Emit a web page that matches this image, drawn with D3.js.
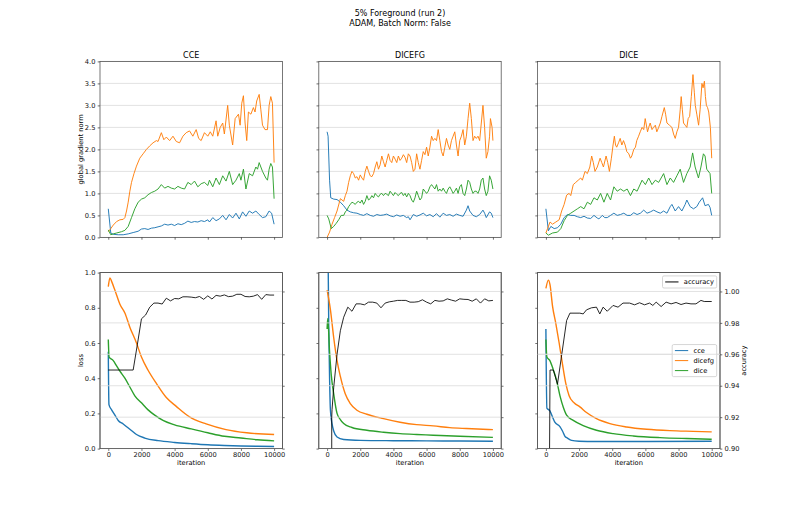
<!DOCTYPE html>
<html>
<head>
<meta charset="utf-8">
<script src="https://cdn.jsdelivr.net/npm/d3@7"></script>
<style>
  body { margin: 0; background: #fff; }
  svg { font-family: "DejaVu Sans", sans-serif; }
</style>
</head>
<body>
<svg id="fig" width="800" height="512"></svg>
<script>
// --- labels / ticks ---
const panelTitles = ["CCE", "DICEFG", "DICE"];
const seriesNames = ["cce", "dicefg", "dice"];
const iterTicks = [0, 2000, 4000, 6000, 8000, 10000];
const gradTicks = [0, 0.5, 1, 1.5, 2, 2.5, 3, 3.5, 4];
const lossTicks = [0, 0.2, 0.4, 0.6, 0.8, 1.0];
const accTicks = [0.90, 0.92, 0.94, 0.96, 0.98, 1.00];

// --- global gradient norm, [iteration, value] ---
const cceGradCce = [[0,0.65],[150,0.1],[300,0.07],[600,0.06],[900,0.06],[1200,0.08],[1500,0.11],[1800,0.14],[2000,0.19],[2200,0.2],[2400,0.18],[2600,0.21],[2800,0.22],[3000,0.24],[3200,0.26],[3400,0.3],[3600,0.28],[3800,0.3],[4000,0.27],[4200,0.31],[4400,0.29],[4600,0.32],[4800,0.37],[5000,0.34],[5200,0.36],[5400,0.35],[5600,0.38],[5800,0.36],[6000,0.4],[6100,0.35],[6300,0.45],[6500,0.38],[6700,0.42],[6900,0.5],[7100,0.4],[7300,0.52],[7500,0.44],[7700,0.55],[7900,0.42],[8100,0.58],[8300,0.48],[8500,0.6],[8700,0.55],[8900,0.6],[9100,0.52],[9300,0.45],[9500,0.47],[9700,0.6],[9850,0.55],[10000,0.3]];
const cceGradDicefg = [[0,0.13],[150,0.2],[300,0.28],[500,0.36],[700,0.4],[900,0.41],[1000,0.45],[1100,0.6],[1200,0.8],[1300,1.05],[1400,1.25],[1550,1.45],[1700,1.62],[1900,1.8],[2100,1.9],[2300,2.0],[2500,2.08],[2700,2.15],[2900,2.2],[3000,2.18],[3200,2.38],[3350,2.22],[3500,2.28],[3700,2.2],[3900,2.3],[4100,2.18],[4300,2.15],[4500,2.3],[4700,2.38],[4900,2.42],[5100,2.3],[5300,2.45],[5450,2.25],[5600,2.2],[5800,2.38],[6000,2.3],[6150,2.4],[6300,2.3],[6500,2.65],[6600,2.3],[6750,2.5],[6900,2.6],[7000,2.35],[7200,3.0],[7300,2.55],[7500,2.1],[7650,2.7],[7850,2.8],[7950,2.55],[8050,3.05],[8150,3.22],[8250,2.6],[8350,2.2],[8450,2.85],[8600,2.8],[8750,2.95],[8850,2.85],[8950,3.1],[9100,3.25],[9200,2.9],[9300,2.55],[9450,2.45],[9600,2.45],[9700,3.0],[9800,3.2],[9900,3.05],[10000,1.7]];
const cceGradDice = [[0,0.17],[150,0.06],[300,0.08],[500,0.1],[800,0.13],[1000,0.16],[1200,0.25],[1400,0.45],[1600,0.65],[1800,0.8],[2000,0.87],[2200,0.9],[2400,0.97],[2600,1.02],[2800,1.05],[3000,1.1],[3200,1.2],[3400,1.12],[3600,1.16],[3800,1.12],[4000,1.1],[4200,1.16],[4400,1.12],[4600,1.1],[4800,1.25],[5000,1.2],[5200,1.28],[5400,1.15],[5600,1.22],[5800,1.25],[6000,1.18],[6100,1.3],[6300,1.15],[6500,1.35],[6700,1.2],[6900,1.4],[7100,1.28],[7300,1.5],[7500,1.2],[7700,1.3],[7900,1.45],[8000,1.3],[8150,1.55],[8300,1.1],[8500,1.45],[8700,1.4],[8900,1.6],[9000,1.55],[9100,1.7],[9300,1.5],[9500,1.35],[9600,1.3],[9700,1.55],[9800,1.68],[9900,1.6],[10000,0.88]];

const dicefgGradCce = [[0,2.4],[60,2.3],[150,1.3],[220,0.9],[400,0.87],[600,0.86],[800,0.8],[1000,0.72],[1200,0.62],[1400,0.58],[1600,0.56],[1800,0.55],[2000,0.52],[2200,0.5],[2400,0.54],[2600,0.5],[2800,0.48],[3000,0.52],[3200,0.5],[3400,0.51],[3600,0.53],[3800,0.49],[4000,0.47],[4200,0.51],[4400,0.48],[4600,0.5],[4800,0.45],[4900,0.47],[5000,0.4],[5200,0.52],[5400,0.48],[5600,0.51],[5800,0.55],[6000,0.49],[6200,0.52],[6400,0.47],[6600,0.54],[6800,0.46],[7000,0.55],[7200,0.5],[7400,0.52],[7600,0.48],[7800,0.53],[8000,0.5],[8200,0.48],[8400,0.62],[8500,0.72],[8600,0.6],[8800,0.5],[9000,0.47],[9200,0.52],[9400,0.62],[9500,0.55],[9600,0.45],[9800,0.58],[9900,0.55],[10000,0.45]];
const dicefgGradDicefg = [[0,0.0],[150,0.12],[300,0.3],[450,0.45],[600,0.6],[800,0.88],[900,0.85],[1000,0.82],[1100,0.95],[1200,1.05],[1300,1.25],[1400,1.4],[1500,1.5],[1600,1.45],[1700,1.35],[1800,1.38],[1900,1.3],[2000,1.42],[2100,1.35],[2200,1.3],[2300,1.5],[2400,1.62],[2500,1.5],[2600,1.4],[2700,1.38],[2800,1.45],[2900,1.6],[3000,1.72],[3100,1.55],[3200,1.65],[3300,1.85],[3400,1.72],[3500,1.6],[3600,1.75],[3700,1.9],[3800,1.75],[3900,1.7],[4000,1.85],[4100,1.78],[4200,1.7],[4300,1.85],[4400,1.75],[4500,1.8],[4600,1.88],[4700,1.82],[4800,1.7],[4900,1.9],[5000,1.85],[5100,1.7],[5200,1.5],[5300,1.55],[5400,1.9],[5500,1.7],[5600,1.55],[5700,1.75],[5800,1.95],[5900,1.88],[6000,2.05],[6100,1.85],[6200,2.05],[6300,2.3],[6400,2.2],[6500,2.25],[6600,2.2],[6700,2.45],[6800,2.2],[6900,1.95],[7000,1.85],[7100,2.05],[7200,2.25],[7300,2.1],[7400,2.0],[7500,2.2],[7600,2.3],[7700,2.4],[7800,2.1],[7900,1.85],[8000,2.2],[8100,2.3],[8200,2.45],[8300,2.1],[8400,2.3],[8500,2.7],[8600,3.05],[8700,2.7],[8800,2.2],[8900,2.3],[9000,2.25],[9100,2.3],[9200,2.2],[9300,2.6],[9400,3.0],[9500,2.5],[9600,1.8],[9700,1.95],[9800,2.3],[9850,2.7],[9950,2.5],[10000,2.2]];
const dicefgGradDice = [[0,0.5],[100,0.42],[250,0.2],[400,0.25],[550,0.32],[700,0.4],[850,0.5],[1000,0.5],[1100,0.58],[1200,0.62],[1300,0.7],[1400,0.75],[1500,0.8],[1600,0.78],[1700,0.75],[1800,0.8],[1900,0.82],[2000,0.78],[2100,0.85],[2200,0.75],[2300,0.82],[2400,0.95],[2500,0.85],[2600,0.88],[2700,0.95],[2800,0.9],[2900,1.0],[3000,0.95],[3100,0.92],[3200,0.98],[3300,1.0],[3400,0.95],[3500,1.0],[3600,0.98],[3700,0.95],[3800,1.05],[3900,1.0],[4000,0.95],[4100,1.02],[4200,0.98],[4300,0.95],[4400,1.0],[4500,1.02],[4600,0.95],[4700,1.0],[4800,0.92],[4900,1.0],[5000,0.95],[5100,0.85],[5200,0.8],[5300,0.9],[5400,1.05],[5500,0.95],[5600,0.85],[5700,0.9],[5800,1.1],[5900,1.05],[6000,1.0],[6100,1.05],[6200,1.15],[6300,1.2],[6400,1.15],[6500,1.1],[6600,1.2],[6700,1.05],[6800,1.1],[6900,1.05],[7000,1.12],[7100,1.05],[7200,1.0],[7300,1.1],[7400,1.15],[7500,1.08],[7600,1.0],[7700,1.05],[7800,1.12],[7900,1.0],[8000,1.15],[8100,1.2],[8200,1.0],[8300,0.95],[8400,1.1],[8500,1.3],[8600,1.25],[8700,1.1],[8800,1.0],[8900,1.05],[9000,1.05],[9100,1.0],[9200,1.1],[9300,1.3],[9400,1.35],[9500,1.1],[9600,0.95],[9700,1.05],[9800,1.4],[9900,1.3],[10000,1.1]];

const diceGradCce = [[0,0.65],[150,0.15],[300,0.25],[500,0.2],[700,0.22],[900,0.3],[1100,0.45],[1300,0.52],[1500,0.5],[1700,0.5],[1900,0.47],[2100,0.45],[2300,0.48],[2500,0.44],[2700,0.43],[2900,0.5],[3100,0.44],[3200,0.42],[3400,0.5],[3550,0.45],[3700,0.45],[3900,0.5],[4100,0.55],[4300,0.5],[4500,0.52],[4700,0.55],[4900,0.5],[5100,0.5],[5300,0.56],[5500,0.52],[5700,0.55],[5900,0.62],[6100,0.55],[6300,0.58],[6500,0.62],[6700,0.58],[6900,0.55],[7100,0.6],[7300,0.55],[7500,0.7],[7600,0.75],[7800,0.6],[8000,0.7],[8200,0.6],[8400,0.75],[8500,0.85],[8700,0.7],[8900,0.65],[9100,0.7],[9250,0.8],[9450,0.9],[9600,0.72],[9800,0.75],[9900,0.68],[10000,0.5]];
const diceGradDicefg = [[0,0.1],[100,0.2],[250,0.35],[400,0.3],[600,0.35],[800,0.4],[950,0.6],[1100,0.75],[1250,0.96],[1400,1.0],[1500,0.95],[1650,1.2],[1800,1.25],[1950,1.3],[2100,1.35],[2200,1.3],[2360,1.5],[2500,1.45],[2650,1.6],[2760,1.85],[2860,1.7],[2960,1.5],[3100,1.6],[3270,1.8],[3370,1.7],[3470,1.6],[3630,1.85],[3730,1.7],[3830,1.5],[3950,1.8],[4050,2.1],[4130,2.3],[4200,2.1],[4270,2.05],[4380,2.15],[4480,2.25],[4580,2.1],[4680,2.2],[4780,2.1],[4880,1.95],[5000,1.9],[5100,1.8],[5180,1.85],[5300,2.0],[5400,2.05],[5480,2.2],[5590,2.3],[5690,2.4],[5800,2.5],[5900,2.45],[5990,2.7],[6130,2.4],[6200,2.5],[6290,2.6],[6400,2.45],[6490,2.5],[6600,2.55],[6690,2.4],[6800,2.5],[6900,2.6],[7000,2.75],[7140,2.95],[7220,2.8],[7300,2.6],[7450,2.55],[7600,2.5],[7700,2.35],[7800,2.25],[7900,2.4],[8000,2.5],[8100,2.9],[8160,3.2],[8230,2.9],[8300,2.6],[8400,2.55],[8500,2.5],[8580,2.7],[8670,2.75],[8770,3.2],[8870,3.7],[8950,3.3],[9010,3.0],[9100,2.8],[9210,2.55],[9300,2.9],[9410,3.5],[9480,3.4],[9560,3.55],[9620,3.2],[9680,3.0],[9750,2.95],[9820,2.85],[9920,2.5],[10000,1.8]];
const diceGradDice = [[0,0.1],[150,0.05],[400,0.1],[700,0.12],[900,0.2],[1100,0.38],[1300,0.5],[1500,0.55],[1700,0.6],[1900,0.65],[2100,0.7],[2300,0.65],[2500,0.8],[2700,0.75],[2900,0.9],[3100,0.85],[3300,1.0],[3500,0.8],[3700,1.0],[3900,0.85],[4100,1.15],[4300,1.05],[4500,1.1],[4700,1.05],[4900,1.1],[5100,0.95],[5300,1.1],[5500,1.05],[5800,1.3],[6000,1.2],[6200,1.35],[6400,1.2],[6600,1.3],[6800,1.25],[7100,1.45],[7300,1.2],[7500,1.35],[7700,1.25],[7900,1.4],[8100,1.55],[8300,1.25],[8500,1.45],[8700,1.6],[8850,1.92],[9000,1.6],[9200,1.35],[9350,1.6],[9500,1.9],[9600,1.85],[9700,1.55],[9900,1.45],[10000,1.0]];

// --- loss ---
const cceLossCce = [[0,0.55],[40,0.25],[200,0.22],[400,0.19],[600,0.16],[900,0.14],[1300,0.11],[1700,0.08],[2200,0.06],[3000,0.045],[4000,0.035],[5000,0.028],[6000,0.022],[7000,0.018],[8000,0.015],[9000,0.013],[10000,0.012]];
const cceLossDicefg = [[0,0.92],[100,0.97],[200,0.95],[400,0.9],[700,0.82],[1000,0.77],[1300,0.69],[1700,0.6],[2000,0.52],[2400,0.445],[2900,0.37],[3500,0.29],[4100,0.24],[4900,0.18],[5900,0.14],[7100,0.108],[8350,0.09],[10000,0.08]];
const cceLossDice = [[0,0.62],[50,0.52],[300,0.5],[500,0.47],[700,0.44],[1000,0.4],[1300,0.35],[1600,0.3],[2000,0.26],[2400,0.22],[2800,0.19],[3300,0.16],[4000,0.135],[5000,0.112],[6000,0.09],[7000,0.07],[8000,0.06],[9000,0.05],[10000,0.044]];

const dicefgLossCce = [[0,1.5],[60,1.1],[100,0.7],[150,0.4],[200,0.22],[300,0.14],[400,0.1],[600,0.066],[1000,0.052],[2000,0.047],[4000,0.045],[6000,0.044],[8000,0.043],[10000,0.042]];
const dicefgLossDicefg = [[0,0.9],[200,0.79],[400,0.63],[600,0.5],[800,0.41],[1100,0.31],[1400,0.256],[1800,0.218],[2400,0.195],[3400,0.17],[4400,0.15],[5400,0.136],[6400,0.129],[7400,0.119],[8400,0.114],[10000,0.108]];
const dicefgLossDice = [[0,0.68],[40,0.74],[150,0.55],[250,0.42],[400,0.31],[600,0.2],[800,0.165],[1000,0.142],[1500,0.12],[2400,0.104],[3400,0.093],[4400,0.085],[5400,0.08],[6400,0.076],[8000,0.07],[10000,0.064]];

const diceLossCce = [[0,0.68],[60,0.23],[240,0.215],[400,0.18],[540,0.15],[845,0.125],[1000,0.1],[1150,0.07],[1300,0.06],[1550,0.047],[2000,0.042],[3000,0.04],[6000,0.04],[10000,0.042]];
const diceLossDicefg = [[0,0.91],[150,0.957],[250,0.93],[400,0.81],[600,0.71],[800,0.6],[1000,0.48],[1200,0.37],[1400,0.3],[1700,0.26],[2050,0.237],[2450,0.205],[3050,0.17],[3860,0.142],[4870,0.123],[6080,0.11],[7480,0.102],[8890,0.098],[10000,0.095]];
const diceLossDice = [[0,0.62],[60,0.52],[240,0.5],[440,0.45],[640,0.39],[850,0.3],[1050,0.235],[1250,0.19],[1650,0.16],[2250,0.13],[3050,0.104],[4060,0.085],[5270,0.072],[6880,0.0625],[8490,0.057],[10000,0.053]];

// --- accuracy (right axis) ---
const cceAcc = [[0,0.95],[1500,0.95],[1750,0.966],[2000,0.9826],[2250,0.985],[2500,0.99],[2750,0.9926],[3000,0.9926],[3250,0.992],[3500,0.9957],[3750,0.994],[4000,0.9955],[4250,0.9953],[4500,0.9966],[4750,0.9966],[5000,0.9964],[5250,0.996],[5500,0.9968],[5750,0.995],[6000,0.9972],[6250,0.9952],[6500,0.9975],[6750,0.997],[7000,0.9978],[7250,0.9967],[7500,0.997],[7750,0.9982],[8000,0.9982],[8250,0.9968],[8500,0.9966],[8750,0.997],[9000,0.998],[9250,0.995],[9500,0.998],[9750,0.9977],[10000,0.9977]];
const dicefgAcc = [[0,0.4],[260,0.4],[280,0.92],[300,0.925],[400,0.939],[600,0.96],[800,0.975],[1000,0.9836],[1250,0.99],[1500,0.9874],[1750,0.9921],[2000,0.9921],[2250,0.9915],[2500,0.9932],[2750,0.9932],[3000,0.9926],[3250,0.9896],[3500,0.9926],[3750,0.9934],[4000,0.9938],[4250,0.9943],[4500,0.9943],[4750,0.9943],[5000,0.9932],[5250,0.9932],[5500,0.9935],[5750,0.9947],[6000,0.9932],[6250,0.9921],[6500,0.9943],[6750,0.9938],[7000,0.994],[7250,0.9953],[7500,0.9945],[7750,0.9938],[8000,0.9953],[8250,0.995],[8500,0.9949],[8750,0.9938],[9000,0.9953],[9250,0.9926],[9500,0.9953],[9750,0.994],[10000,0.9943]];
const diceAcc = [[0,0.5],[250,0.95],[450,0.95],[700,0.941],[1250,0.9815],[1450,0.9862],[2050,0.9862],[2250,0.9857],[2450,0.9883],[2750,0.9896],[3050,0.99],[3250,0.9857],[3450,0.99],[3700,0.9874],[4050,0.9911],[4350,0.99],[4650,0.9926],[5050,0.9926],[5350,0.9915],[5650,0.9928],[5950,0.9915],[6250,0.9926],[6450,0.9911],[6650,0.9932],[6950,0.9904],[7250,0.9932],[7550,0.9921],[7850,0.993],[8150,0.9917],[8450,0.9926],[8750,0.9921],[9050,0.9921],[9350,0.9943],[9550,0.9936],[10000,0.9936]];

const gradData = [
  [cceGradCce, cceGradDicefg, cceGradDice],
  [dicefgGradCce, dicefgGradDicefg, dicefgGradDice],
  [diceGradCce, diceGradDicefg, diceGradDice]
];
const lossData = [
  [cceLossCce, cceLossDicefg, cceLossDice],
  [dicefgLossCce, dicefgLossDicefg, dicefgLossDice],
  [diceLossCce, diceLossDicefg, diceLossDice]
];
const accData = [cceAcc, dicefgAcc, diceAcc];

// --- layout ---
const svg = d3.select("#fig");
const colors = ["#1f77b4", "#ff7f0e", "#2ca02c"];
const axLeft = [100, 318.8, 537.6], axW = 182.4;
const axTop = [61.4, 272.6], axH = 176;
const fsTick = 6.7, fsTitle = 8;
const tickLen = 2.3, tickPad = 2.3;
const gridColor = "#dadada", spineColor = "#555";
const accScale = d3.scaleLinear().domain([0.9, 1.012]);

function styleAxis(g) {
  g.select(".domain").remove();
  g.selectAll(".tick line").attr("stroke", "#333").attr("stroke-width", 0.7);
  g.selectAll(".tick text").attr("fill", "#111").style("font-size", fsTick + "px")
    .style("font-family", "DejaVu Sans");
}

function panel(col, row) {
  const x0 = axLeft[col], y0 = axTop[row];
  const xs = d3.scaleLinear().domain([-500, 10500]).range([x0, x0 + axW]);
  const ys = row === 0
    ? d3.scaleLinear().domain([0, 4]).range([y0 + axH, y0])
    : d3.scaleLinear().domain([0, 1]).range([y0 + axH, y0]);
  const ya = accScale.copy().range([y0 + axH, y0]);

  const g = svg.append("g");
  const clipId = `clip-${row}-${col}`;
  g.append("clipPath").attr("id", clipId).append("rect")
    .attr("x", x0).attr("y", y0).attr("width", axW).attr("height", axH);

  const line = (yScale, curve) => d3.line().x(d => xs(d[0])).y(d => yScale(d[1]))
    .curve(curve || d3.curveLinear);

  if (row === 0) {
    g.append("g").selectAll("line").data(gradTicks).join("line")
      .attr("x1", x0).attr("x2", x0 + axW)
      .attr("y1", d => ys(d)).attr("y2", d => ys(d))
      .attr("stroke", gridColor).attr("stroke-width", 0.8);
    const lg = g.append("g").attr("clip-path", `url(#${clipId})`);
    gradData[col].forEach((s, i) => {
      lg.append("path").datum(s).attr("d", line(ys))
        .attr("fill", "none").attr("stroke", colors[i]).attr("stroke-width", 0.95)
        .attr("stroke-linejoin", "round");
    });
  } else {
    const lg = g.append("g").attr("clip-path", `url(#${clipId})`);
    lossData[col].forEach((s, i) => {
      lg.append("path").datum(s).attr("d", line(ys, d3.curveMonotoneX))
        .attr("fill", "none").attr("stroke", colors[i]).attr("stroke-width", 1.4)
        .attr("stroke-linejoin", "round");
    });
  }

  // spines
  g.append("rect").attr("x", x0).attr("y", y0).attr("width", axW).attr("height", axH)
    .attr("fill", "none").attr("stroke", spineColor).attr("stroke-width", 0.8);

  // x axis
  const xa = g.append("g").attr("transform", `translate(0,${y0 + axH})`)
    .call(d3.axisBottom(xs).tickValues(iterTicks).tickSize(tickLen).tickPadding(tickPad)
      .tickFormat(row === 1 ? d3.format("d") : ""));
  styleAxis(xa);
  xa.selectAll(".tick text").attr("dy", "0.62em");

  // left y axis
  const yAx = g.append("g").attr("transform", `translate(${x0},0)`)
    .call(d3.axisLeft(ys).tickValues(row === 0 ? gradTicks : lossTicks)
      .tickSize(tickLen).tickPadding(tickPad)
      .tickFormat(col === 0 ? d3.format(".1f") : ""));
  styleAxis(yAx);

  if (row === 1) {
    // twin axis: grid, accuracy line, right ticks
    g.append("g").selectAll("line").data(accTicks).join("line")
      .attr("x1", x0).attr("x2", x0 + axW)
      .attr("y1", d => ya(d)).attr("y2", d => ya(d))
      .attr("stroke", gridColor).attr("stroke-width", 0.8);
    g.append("g").attr("clip-path", `url(#${clipId})`)
      .append("path").datum(accData[col]).attr("d", line(ya))
      .attr("fill", "none").attr("stroke", "#000").attr("stroke-width", 0.85);
    const ra = g.append("g").attr("transform", `translate(${x0 + axW},0)`)
      .call(d3.axisRight(ya).tickValues(accTicks).tickSize(tickLen).tickPadding(tickPad)
        .tickFormat(col === 2 ? d3.format(".2f") : ""));
    styleAxis(ra);
    g.append("rect").attr("x", x0).attr("y", y0).attr("width", axW).attr("height", axH)
      .attr("fill", "none").attr("stroke", spineColor).attr("stroke-width", 0.8);

    g.append("text").attr("x", x0 + axW / 2).attr("y", y0 + axH + 16.2)
      .attr("text-anchor", "middle").style("font-size", fsTick + "px").text("iteration");
  } else {
    g.append("text").attr("x", x0 + axW / 2).attr("y", y0 - 3)
      .attr("text-anchor", "middle").style("font-size", fsTitle + "px").text(panelTitles[col]);
  }
}

for (let r = 0; r < 2; r++) for (let c = 0; c < 3; c++) panel(c, r);

// axis labels
function vlabel(x, y, txt) {
  svg.append("text").attr("transform", `translate(${x},${y}) rotate(-90)`)
    .attr("text-anchor", "middle").style("font-size", fsTick + "px").text(txt);
}
vlabel(82.5, axTop[0] + axH / 2, "global gradient norm");
vlabel(82.5, axTop[1] + axH / 2, "loss");
vlabel(745.5, axTop[1] + axH / 2, "accuracy");

// suptitle
svg.append("text").attr("x", 400).attr("y", 16).attr("text-anchor", "middle")
  .style("font-size", fsTitle + "px").text("5% Foreground (run 2)");
svg.append("text").attr("x", 400).attr("y", 26).attr("text-anchor", "middle")
  .style("font-size", fsTitle + "px").text("ADAM, Batch Norm: False");

// legends (DICE loss panel)
function legend(entries, right, yPos, anchorTop) {
  const pad = 2.7, handle = 13.3, hpad = 5.3, rowH = fsTick, gap = 3.3;
  const lg = svg.append("g");
  const box = lg.append("rect");
  const texts = entries.map(e => lg.append("text").style("font-size", fsTick + "px").text(e.label));
  const tw = d3.max(texts, t => t.node().getComputedTextLength());
  const w = pad * 2 + handle + hpad + tw;
  const h = pad * 2 + entries.length * rowH + (entries.length - 1) * gap;
  const left = right - w;
  const top = anchorTop ? yPos : yPos - h / 2;
  box.attr("x", left).attr("y", top).attr("width", w).attr("height", h).attr("rx", 1.5)
    .attr("fill", "#fff").attr("fill-opacity", 0.8).attr("stroke", "#cccccc").attr("stroke-width", 0.8);
  entries.forEach((e, i) => {
    const cy = top + pad + i * (rowH + gap) + rowH / 2;
    lg.append("line").attr("x1", left + pad).attr("x2", left + pad + handle)
      .attr("y1", cy).attr("y2", cy).attr("stroke", e.color).attr("stroke-width", 1);
    texts[i].attr("x", left + pad + handle + hpad).attr("y", cy + rowH * 0.36);
  });
}

const legRight = axLeft[2] + axW - 3.3;
legend(seriesNames.map((n, i) => ({ label: n, color: colors[i] })),
  legRight, axTop[1] + axH / 2, false);
// the twin-axis grid line is drawn over the loss legend
const yGrid = accScale.copy().range([axTop[1] + axH, axTop[1]])(0.96);
svg.append("line").attr("x1", axLeft[2]).attr("x2", axLeft[2] + axW)
  .attr("y1", yGrid).attr("y2", yGrid)
  .attr("stroke", gridColor).attr("stroke-width", 0.8);
legend([{ label: "accuracy", color: "#000" }], legRight, axTop[1] + 3.3, true);
</script>
</body>
</html>
